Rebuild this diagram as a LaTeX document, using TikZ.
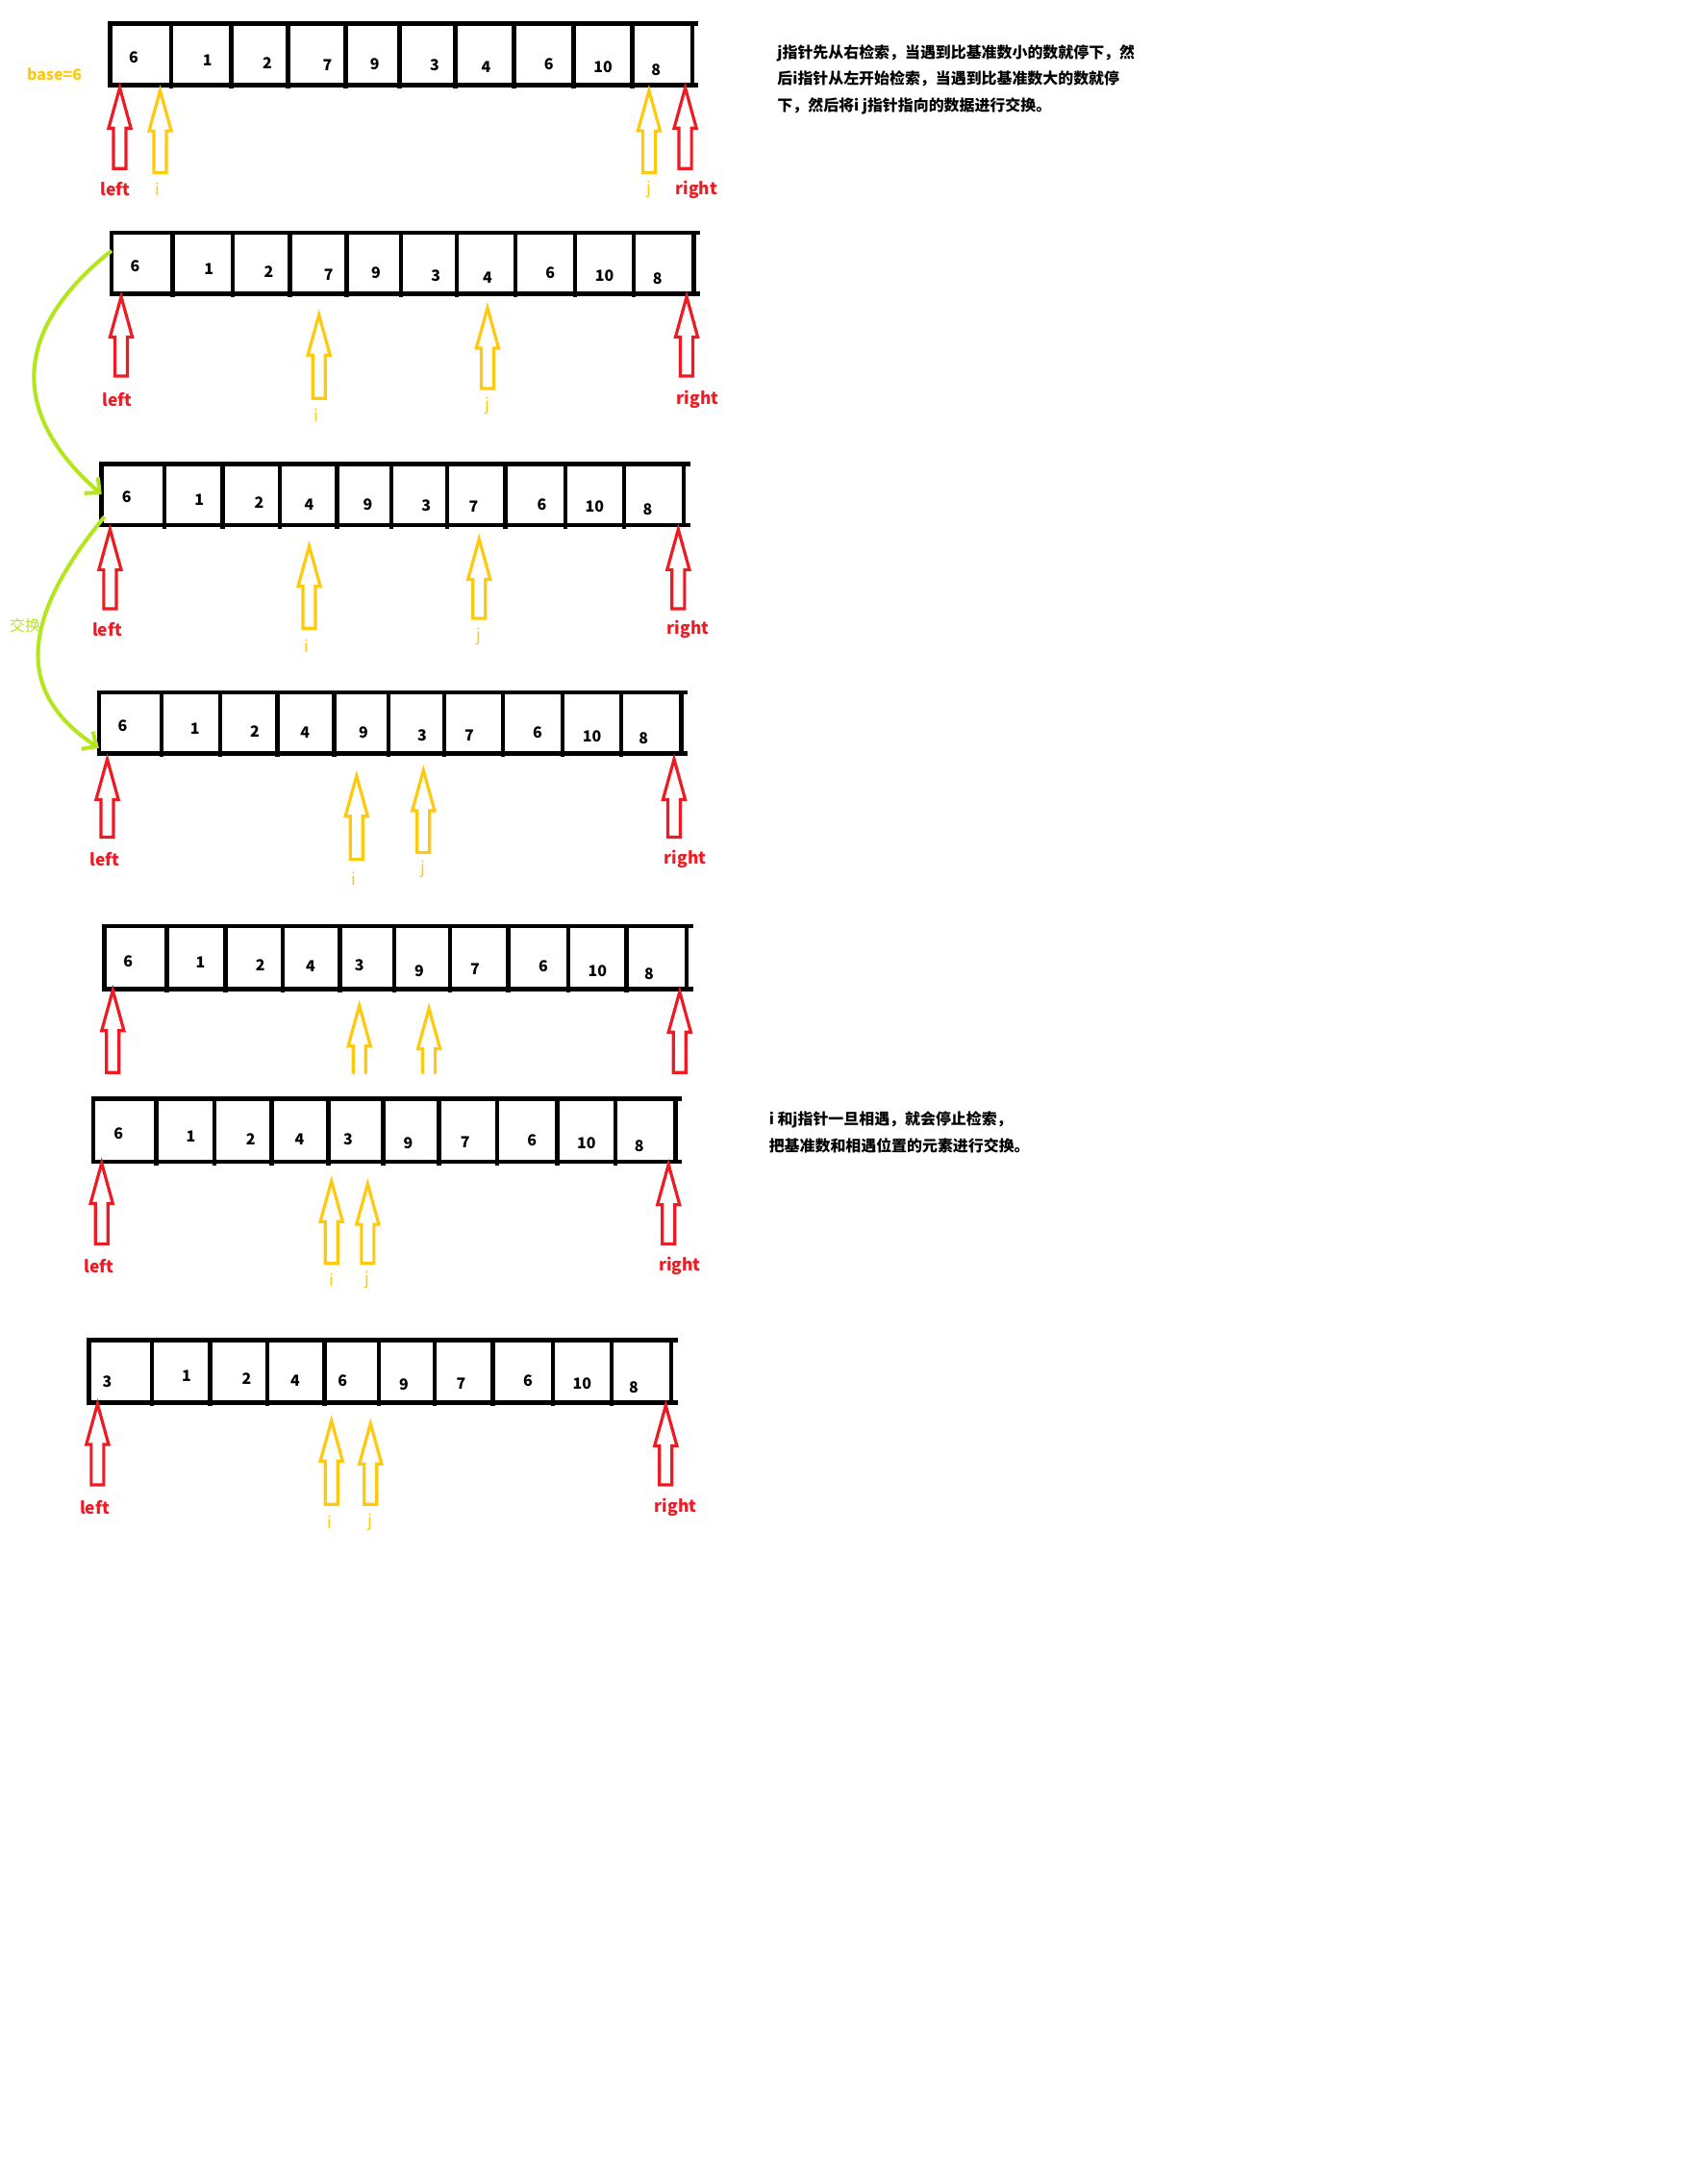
\documentclass[tikz,border=0pt]{standalone}
\usepackage{fontspec}
\setmainfont{Noto Sans CJK SC}
\usetikzlibrary{arrows.meta}
\definecolor{ptrred}{RGB}{237,28,36}
\definecolor{ptrgold}{RGB}{255,201,14}
\definecolor{swapgreen}{RGB}{181,230,29}
\tikzset{
	cellbox/.style={line width=3.2pt, line cap=rect},
	num/.style={font=\bfseries\fontsize{11}{13}\selectfont, text=black, inner sep=0pt},
	ptr/.style={line width=2.2pt, line join=miter},
	redlbl/.style={font=\bfseries\fontsize{12}{14}\selectfont, text=ptrred, inner sep=0pt},
	goldlbl/.style={font=\fontsize{12}{14}\selectfont, text=ptrgold, inner sep=0pt},
	swapline/.style={draw=swapgreen, line width=2.8pt, -{Straight Barb[length=8pt,width=15pt]}},
	note/.style={font=\bfseries\fontsize{11}{19}\selectfont, align=left, inner sep=0pt, anchor=north west},
}
\begin{document}
\begin{tikzpicture}[x=1pt, y=-1pt]
		\path[fill=white] (0,0) rectangle (1223,1568);
		
		\node[font=\bfseries\fontsize{11}{13}\selectfont, text=ptrgold, inner sep=0pt] (base) at (39,53) {base=6};
		\node[note] (note1) at (558,32) {j指针先从右检索，当遇到比基准数小的数就停下，然\\后i指针从左开始检索，当遇到比基准数大的数就停\\下，然后将i j指针指向的数据进行交换。};
		\node[note] (note2) at (552,798) {i 和j指针一旦相遇，就会停止检索，\\把基准数和相遇位置的元素进行交换。};
		
		\begin{scope}[shift={(79,17)}]
			\draw[cellbox] (0,0) -- (421,0) (0,44) -- (421,44) (0,0) -- (0,44) (418,0) -- (418,44);
			\foreach \x in {44,87,128,169,208,248,290,333,375}
				\draw[cellbox] (\x,0) -- (\x,45);
			\foreach \x/\y/\v [count=\k] in {17/24/6, 70/26/1, 113/28/2, 156/30/7, 190/29/9, 233/30/3, 270/31/4, 315/29/6, 354/31/10, 392/33/8}
				\node[num] (n1-\k) at (\x,\y) {\v};
			\foreach \x/\t/\b/\c in {7/46/104/ptrred, 36/48/107/ptrgold, 387/48/107/ptrgold, 413/46/104/ptrred}
				\draw[ptr, draw=\c] (\x-4.5,\b) -- (\x-4.5,\t+29) -- (\x-8,\t+29) -- (\x,\t) -- (\x+8,\t+29) -- (\x+4.5,\t+29) -- (\x+4.5,\b) -- cycle;
			\node[redlbl] (left1) at (4,119) {left};
			\node[goldlbl] (i1) at (34,119) {i};
			\node[goldlbl] (j1) at (387,119) {j};
			\node[redlbl] (right1) at (421,119) {right};
		\end{scope}
		
		\begin{scope}[shift={(80,167)}]
			\draw[cellbox] (0,0) -- (421,0) (0,44) -- (421,44) (0,0) -- (0,44) (418,0) -- (418,44);
			\foreach \x in {44,87,128,169,208,248,290,333,375}
				\draw[cellbox] (\x,0) -- (\x,45);
			\foreach \x/\y/\v [count=\k] in {17/24/6, 70/26/1, 113/28/2, 156/30/7, 190/29/9, 233/31/3, 270/32/4, 315/29/6, 354/31/10, 392/33/8}
				\node[num] (n2-\k) at (\x,\y) {\v};
			\foreach \x/\t/\b/\c in {7/46/103/ptrred, 149/59/119/ptrgold, 270/54/112/ptrgold, 413/46/103/ptrred}
				\draw[ptr, draw=\c] (\x-4.5,\b) -- (\x-4.5,\t+29) -- (\x-8,\t+29) -- (\x,\t) -- (\x+8,\t+29) -- (\x+4.5,\t+29) -- (\x+4.5,\b) -- cycle;
			\node[redlbl] (left2) at (4,120) {left};
			\node[goldlbl] (i2) at (147,131) {i};
			\node[goldlbl] (j2) at (270,124) {j};
			\node[redlbl] (right2) at (421,120) {right};
			\coordinate (s2) at (0,13);
		\end{scope}
		
		\begin{scope}[shift={(73,333)}]
			\draw[cellbox] (0,0) -- (421,0) (0,44) -- (421,44) (0,0) -- (0,44) (418,0) -- (418,44);
			\foreach \x in {45,87,128,169,208,248,290,333,375}
				\draw[cellbox] (\x,0) -- (\x,45);
			\foreach \x/\y/\v [count=\k] in {18/24/6, 70/26/1, 113/28/2, 149/29/4, 191/29/9, 233/30/3, 267/31/7, 316/29/6, 354/31/10, 392/33/8}
				\node[num] (n3-\k) at (\x,\y) {\v};
			\foreach \x/\t/\b/\c in {6/47/104/ptrred, 149/59/118/ptrgold, 271/54/111/ptrgold, 414/47/104/ptrred}
				\draw[ptr, draw=\c] (\x-4.5,\b) -- (\x-4.5,\t+29) -- (\x-8,\t+29) -- (\x,\t) -- (\x+8,\t+29) -- (\x+4.5,\t+29) -- (\x+4.5,\b) -- cycle;
			\node[redlbl] (left3) at (4,119) {left};
			\node[goldlbl] (i3) at (147,131) {i};
			\node[goldlbl] (j3) at (271,124) {j};
			\node[redlbl] (right3) at (421,119) {right};
			\coordinate (e3) at (0,22);
			\coordinate (s3) at (2,38);
		\end{scope}
		
		\begin{scope}[shift={(71,497)}]
			\draw[cellbox] (0,0) -- (421,0) (0,44) -- (421,44) (0,0) -- (0,44) (418,0) -- (418,44);
			\foreach \x in {45,87,128,169,208,248,290,333,375}
				\draw[cellbox] (\x,0) -- (\x,45);
			\foreach \x/\y/\v [count=\k] in {17/24/6, 69/26/1, 112/28/2, 148/29/4, 190/29/9, 232/31/3, 266/31/7, 315/29/6, 354/32/10, 391/33/8}
				\node[num] (n4-\k) at (\x,\y) {\v};
			\foreach \x/\t/\b/\c in {6/48/104/ptrred, 185/60/120/ptrgold, 233/56/115/ptrgold, 413/48/104/ptrred}
				\draw[ptr, draw=\c] (\x-4.5,\b) -- (\x-4.5,\t+29) -- (\x-8,\t+29) -- (\x,\t) -- (\x+8,\t+29) -- (\x+4.5,\t+29) -- (\x+4.5,\b) -- cycle;
			\node[redlbl] (left4) at (4,120) {left};
			\node[goldlbl] (i4) at (183,134) {i};
			\node[goldlbl] (j4) at (233,127) {j};
			\node[redlbl] (right4) at (421,120) {right};
			\coordinate (e4) at (0,40);
		\end{scope}
		
		\begin{scope}[shift={(75,665)}]
			\draw[cellbox] (0,0) -- (421,0) (0,45) -- (421,45) (0,0) -- (0,45) (418,0) -- (418,45);
			\foreach \x in {45,87,128,169,208,248,290,333,375}
				\draw[cellbox] (\x,0) -- (\x,46);
			\foreach \x/\y/\v [count=\k] in {17/25/6, 69/26/1, 112/28/2, 148/29/4, 183/28/3, 226/32/9, 266/31/7, 315/29/6, 354/32/10, 391/34/8}
				\node[num] (n5-\k) at (\x,\y) {\v};
			\foreach \x/\t/\b in {6/46/105, 413/47/105}
				\draw[ptr, draw=ptrred] (\x-4.5,\b) -- (\x-4.5,\t+29) -- (\x-8,\t+29) -- (\x,\t) -- (\x+8,\t+29) -- (\x+4.5,\t+29) -- (\x+4.5,\b) -- cycle;
			% i and j, still open at the foot
			\foreach \x/\t/\b in {183/57/106, 233/59/106}
				\draw[ptr, draw=ptrgold] (\x-4.5,\b) -- (\x-4.5,\t+29) -- (\x-8,\t+29) -- (\x,\t) -- (\x+8,\t+29) -- (\x+4.5,\t+29) -- (\x+4.5,\b);
		\end{scope}
		
		\begin{scope}[shift={(67,789)}]
			\draw[cellbox] (0,0) -- (421,0) (0,45) -- (421,45) (0,0) -- (0,45) (418,0) -- (418,45);
			\foreach \x in {45,87,128,169,208,248,290,333,375}
				\draw[cellbox] (\x,0) -- (\x,46);
			\foreach \x/\y/\v [count=\k] in {18/25/6, 70/27/1, 113/29/2, 148/29/4, 183/29/3, 226/32/9, 267/31/7, 315/30/6, 354/32/10, 392/34/8}
				\node[num] (n6-\k) at (\x,\y) {\v};
			\foreach \x/\t/\b/\c in {6/46/104/ptrred, 171/59/118/ptrgold, 197/61/118/ptrgold, 413/47/104/ptrred}
				\draw[ptr, draw=\c] (\x-4.5,\b) -- (\x-4.5,\t+29) -- (\x-8,\t+29) -- (\x,\t) -- (\x+8,\t+29) -- (\x+4.5,\t+29) -- (\x+4.5,\b) -- cycle;
			\node[redlbl] (left6) at (4,120) {left};
			\node[goldlbl] (i6) at (171,130) {i};
			\node[goldlbl] (j6) at (197,130) {j};
			\node[redlbl] (right6) at (421,120) {right};
		\end{scope}
		
		\begin{scope}[shift={(64,962)}]
			\draw[cellbox] (0,0) -- (421,0) (0,45) -- (421,45) (0,0) -- (0,45) (418,0) -- (418,45);
			\foreach \x in {45,87,128,169,208,248,290,333,375}
				\draw[cellbox] (\x,0) -- (\x,46);
			\foreach \x/\y/\v [count=\k] in {13/30/3, 70/26/1, 113/28/2, 148/29/4, 182/29/6, 226/32/9, 267/31/7, 315/29/6, 354/31/10, 391/34/8}
				\node[num] (n7-\k) at (\x,\y) {\v};
			\foreach \x/\t/\b/\c in {6/46/104/ptrred, 174/58/118/ptrgold, 202/60/118/ptrgold, 414/47/104/ptrred}
				\draw[ptr, draw=\c] (\x-4.5,\b) -- (\x-4.5,\t+29) -- (\x-8,\t+29) -- (\x,\t) -- (\x+8,\t+29) -- (\x+4.5,\t+29) -- (\x+4.5,\b) -- cycle;
			\node[redlbl] (left7) at (4,120) {left};
			\node[goldlbl] (i7) at (173,131) {i};
			\node[goldlbl] (j7) at (202,131) {j};
			\node[redlbl] (right7) at (421,120) {right};
		\end{scope}
		
		% swap curves
		\draw[swapline] (s2) .. controls (5,240) and (10,300) .. (e3);
		\draw[swapline] (s3) .. controls (10,450) and (15,500) .. (e4);
		\node[font=\fontsize{11}{13}\selectfont, text=swapgreen, inner sep=0pt] (swap) at (18,449) {交换};
		
	\end{tikzpicture}
\end{document}
